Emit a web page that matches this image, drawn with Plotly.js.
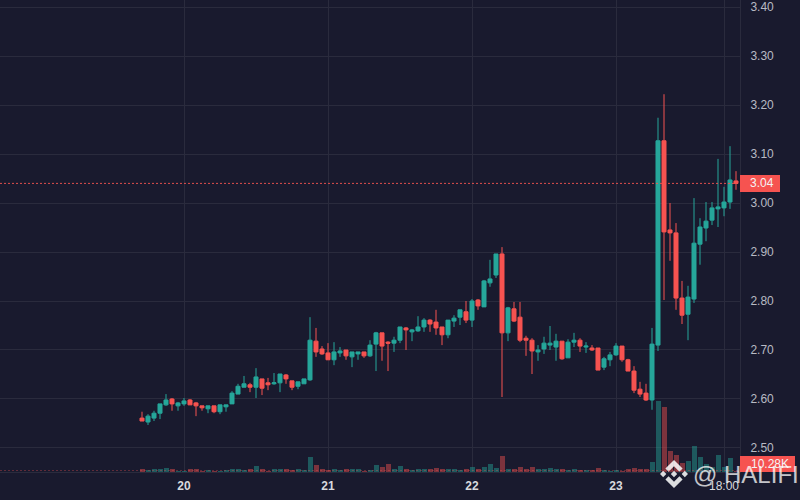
<!DOCTYPE html>
<html>
<head>
<meta charset="utf-8">
<script src="https://cdn.plot.ly/plotly-3.0.1.min.js"></script>
<style>html,body{margin:0;padding:0;background:#191a2e;overflow:hidden}</style>
</head>
<body>
<div id="chart" style="width:800px;height:500px"></div>
<script>
const open = [2.561,2.553,2.561,2.571,2.588,2.600,2.586,2.590,2.598,2.592,2.586,2.580,2.586,2.574,2.584,2.590,2.610,2.624,2.629,2.624,
2.641,2.633,2.631,2.633,2.649,2.637,2.626,2.631,2.639,2.718,2.702,2.694,2.680,2.694,2.700,2.686,2.692,2.696,2.688,2.712,
2.735,2.716,2.714,2.720,2.745,2.737,2.739,2.747,2.761,2.757,2.747,2.731,2.759,2.767,2.778,2.761,2.802,2.788,2.837,2.853,
2.896,2.735,2.784,2.767,2.724,2.720,2.696,2.702,2.710,2.706,2.718,2.684,2.716,2.720,2.706,2.704,2.704,2.665,2.680,2.690,
2.708,2.680,2.657,2.620,2.612,2.598,2.710,3.127,2.945,2.939,2.806,2.773,2.804,2.916,2.949,2.965,2.988,2.990,3.002,3.045];
const high = [2.574,2.569,2.576,2.590,2.610,2.602,2.594,2.602,2.600,2.594,2.586,2.586,2.586,2.588,2.588,2.616,2.631,2.647,2.633,2.663,
2.641,2.643,2.653,2.651,2.651,2.637,2.635,2.641,2.767,2.745,2.708,2.714,2.716,2.706,2.700,2.696,2.696,2.696,2.720,2.737,
2.735,2.718,2.727,2.747,2.747,2.743,2.769,2.765,2.763,2.782,2.747,2.761,2.771,2.782,2.800,2.804,2.804,2.843,2.884,2.896,
2.910,2.788,2.798,2.798,2.729,2.724,2.710,2.727,2.749,2.733,2.718,2.722,2.735,2.724,2.716,2.710,2.704,2.686,2.696,2.714,
2.708,2.682,2.667,2.635,2.631,2.745,3.174,3.222,3.000,2.959,2.841,2.831,3.010,2.969,3.002,3.002,3.090,3.033,3.116,3.065];
const low = [2.555,2.547,2.555,2.559,2.586,2.576,2.576,2.586,2.588,2.565,2.576,2.571,2.571,2.569,2.574,2.590,2.610,2.624,2.614,2.602,
2.608,2.618,2.629,2.614,2.631,2.618,2.620,2.631,2.637,2.686,2.690,2.680,2.669,2.686,2.680,2.665,2.680,2.684,2.686,2.657,
2.678,2.657,2.696,2.714,2.700,2.718,2.737,2.737,2.737,2.731,2.710,2.724,2.747,2.751,2.755,2.747,2.782,2.788,2.829,2.847,
2.604,2.718,2.757,2.716,2.688,2.651,2.678,2.692,2.700,2.678,2.680,2.684,2.706,2.696,2.694,2.698,2.659,2.659,2.667,2.688,
2.676,2.657,2.612,2.604,2.596,2.578,2.698,2.802,2.882,2.782,2.753,2.720,2.796,2.874,2.922,2.955,2.951,2.973,2.988,3.027];
const close = [2.555,2.565,2.571,2.590,2.598,2.590,2.592,2.596,2.588,2.586,2.582,2.586,2.574,2.588,2.588,2.612,2.626,2.631,2.624,2.645,
2.622,2.629,2.633,2.651,2.641,2.624,2.635,2.641,2.720,2.696,2.692,2.680,2.696,2.698,2.688,2.696,2.696,2.688,2.710,2.735,
2.708,2.714,2.720,2.747,2.741,2.741,2.747,2.761,2.753,2.745,2.731,2.761,2.765,2.782,2.761,2.800,2.790,2.841,2.845,2.896,
2.735,2.786,2.759,2.720,2.720,2.698,2.700,2.714,2.714,2.718,2.682,2.716,2.720,2.708,2.708,2.700,2.659,2.682,2.690,2.708,
2.680,2.657,2.618,2.610,2.598,2.712,3.127,2.941,2.939,2.806,2.771,2.808,2.918,2.951,2.963,2.990,2.992,3.002,3.047,3.04];
const volumeK = [20,14,20,20,27,20,9,7,18,20,7,14,7,7,16,18,20,16,18,41,
20,7,18,18,20,16,18,16,103,48,20,16,20,14,20,20,20,7,14,48,
34,55,20,41,20,14,20,20,20,27,20,20,20,14,20,34,20,34,55,27,
110,20,20,34,20,34,20,20,27,20,20,14,20,14,14,14,27,14,9,14,
7,20,27,20,20,69,486,445,144,116,62,75,178,103,55,34,116,34,96,10.28];

const GREEN = '#26a69a', RED = '#f65350';
const BG = '#191a2e', GRID = '#2a2b3d', TEXT = '#b8bac4';
const START = Date.UTC(2024, 0, 19, 17);
const times = open.map((_, i) => new Date(START + i * 3600000).toISOString());
const tickVals = ['2024-01-20 00:00', '2024-01-21 00:00', '2024-01-22 00:00', '2024-01-23 00:00', '2024-01-23 18:00'];
const tickText = ['<b>20</b>', '<b>21</b>', '<b>22</b>', '<b>23</b>', '18:00'];
const priceTicks = [2.5, 2.6, 2.7, 2.8, 2.9, 3.0, 3.1, 3.2, 3.3, 3.4];
const lastPrice = 3.04, lastVolume = 10.28;

const logo = "data:image/svg+xml;utf8," + encodeURIComponent(
  '<svg xmlns="http://www.w3.org/2000/svg" viewBox="0 0 126.61 126.61"><g fill="#ffffff">' +
  '<path d="M38.73 53.2l24.59-24.58 24.6 24.6 14.3-14.31L63.32 0 24.42 38.9z"/>' +
  '<path d="M0 63.31l14.3-14.31 14.31 14.31-14.31 14.3z"/>' +
  '<path d="M38.73 73.41L63.32 98l24.6-24.6 14.31 14.29-38.9 38.91-38.91-38.88z"/>' +
  '<path d="M98 63.31l14.3-14.31 14.31 14.3-14.31 14.32z"/>' +
  '<path d="M77.83 63.3L63.32 48.78 52.59 59.51l-1.24 1.23-2.54 2.54 14.51 14.5 14.51-14.47z"/>' +
  '</g></svg>');

const traces = [
  {
    type: 'bar', x: times, y: volumeK, yaxis: 'y', width: 3000000,
    marker: {
      color: open.map((o, i) => close[i] >= o ? 'rgba(38,166,154,0.45)' : 'rgba(246,83,80,0.45)'),
      line: {width: 0}
    },
    hoverinfo: 'skip'
  },
  {
    type: 'candlestick', x: times, open, high, low, close, yaxis: 'y2',
    whiskerwidth: 0,
    increasing: {line: {color: GREEN, width: 1}, fillcolor: GREEN},
    decreasing: {line: {color: RED, width: 1}, fillcolor: RED}
  }
];

const layout = {
  width: 800, height: 500,
  margin: {l: 0, r: 60, t: 0, b: 28, pad: 0},
  paper_bgcolor: BG, plot_bgcolor: BG,
  showlegend: false, boxgap: 0.33, boxgroupgap: 0, bargap: 0,
  font: {family: '"Liberation Sans", Arial, sans-serif', size: 12, color: TEXT},
  xaxis: {
    type: 'date', range: ['2024-01-18 17:20', '2024-01-23 20:40'],
    tickmode: 'array', tickvals: tickVals, ticktext: tickText,
    showgrid: true, gridcolor: GRID, gridwidth: 1,
    showline: true, linecolor: GRID, linewidth: 1, zeroline: false,
    ticks: '', tickangle: 0, rangeslider: {visible: false},
    ticklabelstandoff: 3,
    tickfont: {color: '#d8d9de', size: 12}
  },
  yaxis: {
    range: [0, 3233], showgrid: false, zeroline: false, showticklabels: false,
    fixedrange: true, ticks: ''
  },
  yaxis2: {
    overlaying: 'y', side: 'right', anchor: 'x',
    range: [2.4510, 3.4143],
    tickmode: 'array', tickvals: priceTicks, ticktext: priceTicks.map(v => v.toFixed(2)),
    showgrid: true, gridcolor: GRID, gridwidth: 1,
    showline: true, linecolor: GRID, linewidth: 1, zeroline: false,
    ticks: '', ticklabelposition: 'outside', ticklabelstandoff: 7,
    tickfont: {color: TEXT, size: 12}
  },
  shapes: [
    {type: 'line', xref: 'paper', x0: 0, x1: 1, yref: 'y2', y0: lastPrice, y1: lastPrice,
     line: {color: 'rgba(246,83,80,0.9)', width: 1, dash: '2px,2px'}, layer: 'above'},
    {type: 'line', xref: 'paper', x0: 0, x1: 1, yref: 'y', y0: lastVolume, y1: lastVolume,
     line: {color: 'rgba(246,83,80,0.32)', width: 1, dash: '2px,2px'}, layer: 'above'},
    {type: 'rect', xref: 'paper', x0: 1, x1: 780 / 740, yref: 'y2', ysizemode: 'pixel', yanchor: lastPrice,
     y0: -8.5, y1: 8.5, fillcolor: RED, line: {width: 0}, layer: 'above'},
    {type: 'rect', xref: 'paper', x0: 1, x1: 795 / 740, yref: 'paper', y0: 0, y1: 16 / 472,
     fillcolor: RED, line: {width: 0}, layer: 'above'}
  ],
  annotations: [
    {xref: 'paper', yref: 'y2', x: 761.5 / 740, y: lastPrice, xanchor: 'center', yanchor: 'middle',
     text: lastPrice.toFixed(2), showarrow: false, font: {color: '#f3f3f5', size: 12}},
    {xref: 'paper', yref: 'paper', x: 770 / 740, y: 8 / 472, xanchor: 'center', yanchor: 'middle',
     text: lastVolume.toFixed(2) + 'K', showarrow: false, font: {color: '#f3f3f5', size: 12}},
    {xref: 'paper', yref: 'paper', x: 691 / 740, y: 1 - 474 / 472, xanchor: 'left', yanchor: 'middle',
     text: '@ HALIFI', showarrow: false, opacity: 0.75, font: {color: '#ffffff', size: 24}}
  ],
  images: [
    {source: logo, xref: 'paper', yref: 'paper', x: 660 / 740, y: 1 - 460 / 472,
     sizex: 28 / 740, sizey: 28 / 472, xanchor: 'left', yanchor: 'top', sizing: 'stretch',
     layer: 'above', opacity: 0.85}
  ]
};

Plotly.newPlot('chart', traces, layout, {displayModeBar: false, staticPlot: true});
</script>
</body>
</html>
